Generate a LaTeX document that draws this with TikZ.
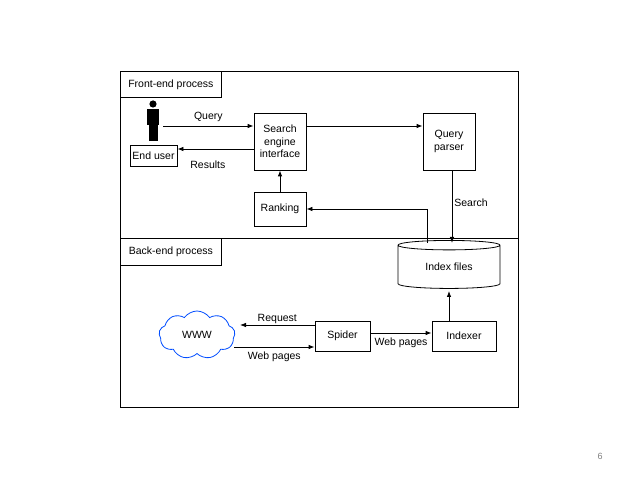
\documentclass[tikz,border=0pt]{standalone}
\usepackage{fontspec}
\setmainfont{Liberation Sans}
\usetikzlibrary{shapes.geometric,shapes.symbols,arrows.meta}
\begin{document}
\begin{tikzpicture}[x=1pt,y=-1pt,font=\fontsize{10.5}{12.5}\selectfont,
 box/.style={draw,thick,inner sep=0pt,align=center},
 arr/.style={-{Latex[length=6pt,width=4.5pt]},thick},
 lbl/.style={inner sep=1pt}]
\useasboundingbox (0,0) rectangle (638,478);
\draw[thick] (120,71) rectangle (518,407);
\draw[thick] (120,238) -- (518,238);
\node[box,minimum width=101pt,minimum height=26pt,anchor=north west] (fe) at (120,71) {Front-end process};
\node[box,minimum width=101pt,minimum height=27pt,anchor=north west] (be) at (120,238) {Back-end process};
\node[box,minimum width=52pt,minimum height=57pt] (sei) at (280,141.5) {Search\\engine\\interface};
\node[box,minimum width=52pt,minimum height=57pt] (qp) at (449,141.5) {Query\\parser};
\node[box,minimum width=47pt,minimum height=21pt] (eu) at (153.5,155.5) {End user};
\node[box,minimum width=52pt,minimum height=34pt] (rk) at (280,209) {Ranking};
\node[box,cylinder,shape border rotate=90,aspect=0.2,minimum width=102pt,minimum height=48pt] (ix) at (449,267) {Index files};
\node[box,minimum width=64pt,minimum height=30pt] (idx) at (464,336) {Indexer};
\node[box,minimum width=55pt,minimum height=30pt] (sp) at (342.5,336) {Spider};
\node[cloud,draw=blue!70!cyan,thick,cloud puffs=9,cloud puff arc=110,aspect=1.6,minimum width=76pt,minimum height=48pt,inner sep=0pt] (www) at (197,335) {WWW};
% person
\fill (153,104) circle (3.6);
\fill (147,109) rectangle (159,125);
\fill (148.5,124) rectangle (152.6,141);
\fill (153.4,124) rectangle (157.5,141);
\draw[arr] (163,126) -- (sei.west |- 0,126) node[lbl,midway,above=3pt] {Query};
\draw[arr] (sei.west |- 0,149) -- (eu.east |- 0,149) node[lbl,pos=0.6,below=10pt] {Results};
\draw[arr] (sei.east |- 0,126) -- (qp.west |- 0,126);
\draw[arr] (rk) -- (sei);
\coordinate (ixtop) at (452,243);
\draw[arr] (qp.south -| ixtop) -- (ixtop) node[lbl,pos=0.45,right=1pt] {Search};
\draw[arr] (427,243) -- (427,209) -- (rk.east);
\coordinate (ixbot) at (449,291);
\draw[arr] (idx.north -| ixbot) -- (ixbot);
\draw[arr] (sp.east |- 0,333) -- (idx.west |- 0,333) node[lbl,midway,below=3pt] {Web pages};
\draw[arr] (sp.west |- 0,325) -- (240,325) node[lbl,midway,above=0pt] {Request};
\draw[arr] (234,347) -- (sp.west |- 0,347) node[lbl,midway,below=3pt] {Web pages};
\node[font=\fontsize{9}{10}\selectfont,text=gray] (pn) at (600,456) {6};
\end{tikzpicture}
\end{document}
